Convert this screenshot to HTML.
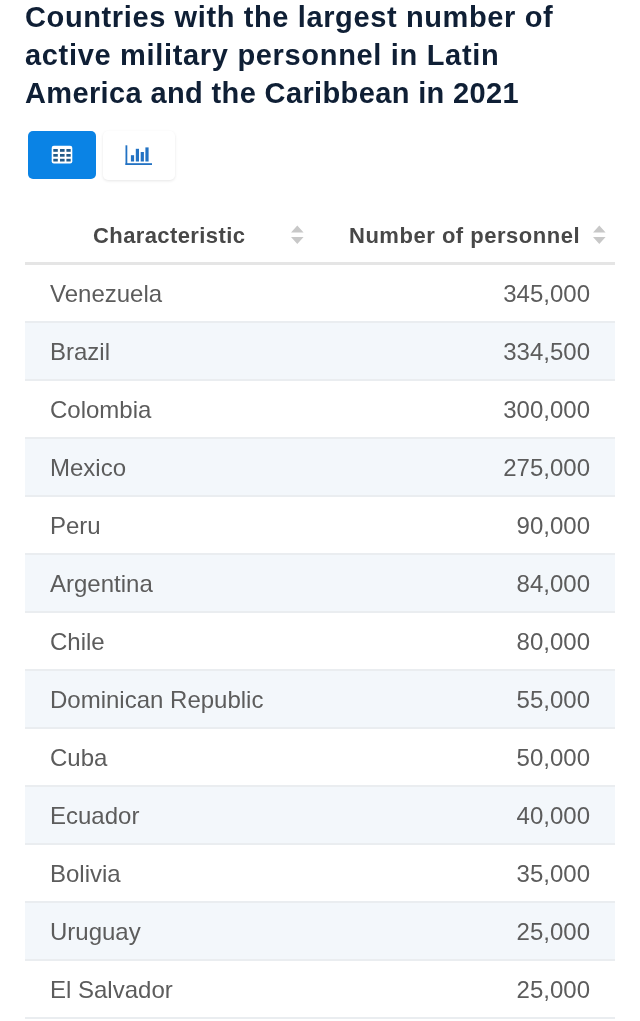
<!DOCTYPE html>
<html>
<head>
<meta charset="utf-8">
<style>
html,body{margin:0;padding:0;background:#fff;}
body{width:640px;height:1021px;overflow:hidden;position:relative;will-change:transform;font-family:"Liberation Sans",sans-serif;}
.title{position:absolute;left:25px;top:-2px;margin:0;font-size:29px;font-weight:bold;line-height:38px;color:#0f1f35;letter-spacing:0.62px;white-space:nowrap;}
.t1{position:absolute;left:0;top:-2px;}
.btn{position:absolute;box-sizing:border-box;border-radius:5px;}
.b1{left:28px;top:131px;width:68px;height:48px;background:#0a83e5;}
.b2{left:103px;top:131px;width:72px;height:49px;background:#fff;box-shadow:0 1px 3px rgba(0,0,0,0.10);}
.hdr{position:absolute;top:0;font-size:22px;font-weight:bold;color:#484848;white-space:nowrap;}
.sort{position:absolute;width:13px;height:19px;}
.hline{position:absolute;left:25px;top:262px;width:590px;height:3px;background:#e5e5e5;}
.rows{position:absolute;left:25px;top:265px;width:590px;}
.row{position:relative;height:56px;border-bottom:2px solid #eaedf0;font-size:24px;color:#5c5c5c;}
.row.alt{background:#f3f7fb;}
.row .c{position:absolute;left:25px;top:1px;line-height:56px;}
.row .n{position:absolute;right:25px;top:1px;line-height:56px;}
</style>
</head>
<body>
<div class="title"><span style="letter-spacing:0.62px">Countries with the largest number of</span><br><span style="letter-spacing:0.68px">active military personnel in Latin</span><br><span style="letter-spacing:0.37px">America and the Caribbean in 2021</span></div>

<div class="btn b1">
<svg width="68" height="48" viewBox="0 0 68 48" style="position:absolute;left:0;top:0">
<rect x="23.7" y="14.7" width="20.6" height="17.7" rx="2.2" fill="#fff"/>
<g fill="#225a88">
<rect x="25.3" y="18" width="4.5" height="2.8"/><rect x="32" y="18" width="4.6" height="2.8"/><rect x="38.4" y="18" width="4.3" height="2.8"/>
<rect x="25.3" y="23" width="4.5" height="2.7"/><rect x="32" y="23" width="4.6" height="2.7"/><rect x="38.4" y="23" width="4.3" height="2.7"/>
<rect x="25.3" y="27.8" width="4.5" height="2.7"/><rect x="32" y="27.8" width="4.6" height="2.7"/><rect x="38.4" y="27.8" width="4.3" height="2.7"/>
</g>
</svg>
</div>
<div class="btn b2">
<svg width="72" height="49" viewBox="0 0 72 49" style="position:absolute;left:0;top:0">
<g fill="#2272c3">
<rect x="22.5" y="14.3" width="1.8" height="19.6"/>
<rect x="22.5" y="32.2" width="26.5" height="1.8"/>
<rect x="27.9" y="24.2" width="3.2" height="6.3"/>
<rect x="32.8" y="17.8" width="3.2" height="12.7"/>
<rect x="37.7" y="21" width="3.2" height="9.5"/>
<rect x="42.4" y="16.4" width="3.2" height="14.1"/>
</g>
</svg>
</div>

<div class="hdr" style="left:93px;top:223px;letter-spacing:0.4px;">Characteristic</div>
<svg class="sort" style="left:290.5px;top:225px" viewBox="0 0 13 19"><path d="M6.3 0.5 L12.6 7.4 L0 7.4 Z M0 12.1 L12.6 12.1 L6.3 19 Z" fill="#c8c8c8"/></svg>
<div class="hdr" style="left:349px;top:223px;letter-spacing:0.52px;">Number of personnel</div>
<svg class="sort" style="left:593.3px;top:225px" viewBox="0 0 13 19"><path d="M6.3 0.5 L12.6 7.4 L0 7.4 Z M0 12.1 L12.6 12.1 L6.3 19 Z" fill="#c8c8c8"/></svg>

<div class="hline"></div>
<div class="rows">
<div class="row"><span class="c">Venezuela</span><span class="n">345,000</span></div>
<div class="row alt"><span class="c">Brazil</span><span class="n">334,500</span></div>
<div class="row"><span class="c">Colombia</span><span class="n">300,000</span></div>
<div class="row alt"><span class="c">Mexico</span><span class="n">275,000</span></div>
<div class="row"><span class="c">Peru</span><span class="n">90,000</span></div>
<div class="row alt"><span class="c">Argentina</span><span class="n">84,000</span></div>
<div class="row"><span class="c">Chile</span><span class="n">80,000</span></div>
<div class="row alt"><span class="c">Dominican Republic</span><span class="n">55,000</span></div>
<div class="row"><span class="c">Cuba</span><span class="n">50,000</span></div>
<div class="row alt"><span class="c">Ecuador</span><span class="n">40,000</span></div>
<div class="row"><span class="c">Bolivia</span><span class="n">35,000</span></div>
<div class="row alt"><span class="c">Uruguay</span><span class="n">25,000</span></div>
<div class="row"><span class="c">El Salvador</span><span class="n">25,000</span></div>
</div>
</body>
</html>
